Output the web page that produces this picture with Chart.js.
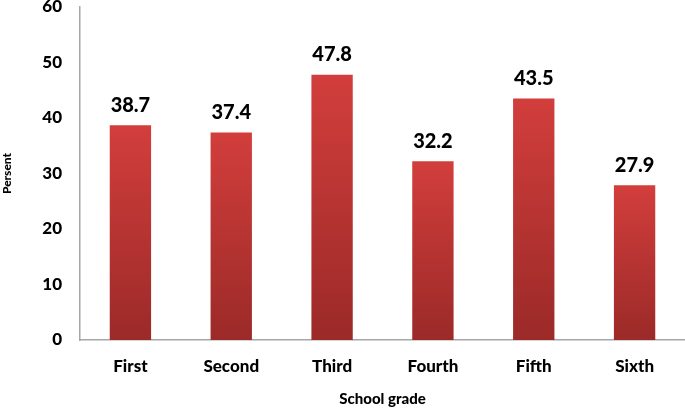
<!DOCTYPE html>
<html>
<head>
<meta charset="utf-8">
<script src="https://cdn.jsdelivr.net/npm/chart.js@4"></script>
<style>
  html, body { margin: 0; padding: 0; background: #fff; }
  #wrap { width: 685px; height: 408px; }
</style>
</head>
<body>
<div id="wrap"><canvas id="chart"></canvas></div>
<script>
const grades = ['First', 'Second', 'Third', 'Fourth', 'Fifth', 'Sixth'];
const percents = [38.7, 37.4, 47.8, 32.2, 43.5, 27.9];
const yTicks = [0, 10, 20, 30, 40, 50, 60];

const FONT = 'Lato, "Open Sans", sans-serif';
const WEIGHT = 900;

// gradient per bar, light at the top and darker at the base
function barColor(context) {
  const chart = context.chart;
  if (!chart.chartArea || context.parsed === undefined) return '#c0393a';
  const y = chart.scales.y;
  const top = y.getPixelForValue(context.parsed.y);
  const base = y.getPixelForValue(0);
  const g = chart.ctx.createLinearGradient(0, top, 0, base);
  g.addColorStop(0, '#d23e3c');
  g.addColorStop(1, '#9b2a28');
  return g;
}

// values written above each bar
const valueLabels = {
  id: 'valueLabels',
  afterDatasetsDraw(chart) {
    const ctx = chart.ctx;
    const meta = chart.getDatasetMeta(0);
    ctx.save();
    ctx.font = WEIGHT + ' 20px ' + FONT;
    ctx.fillStyle = '#000';
    ctx.textAlign = 'center';
    ctx.textBaseline = 'bottom';
    meta.data.forEach((bar, i) => {
      ctx.fillText(percents[i].toFixed(1), bar.x, bar.y - 10);
    });
    ctx.restore();
  }
};

new Chart(document.getElementById('chart'), {
  type: 'bar',
  data: {
    labels: grades,
    datasets: [{
      data: percents,
      backgroundColor: barColor,
      borderWidth: 0,
      categoryPercentage: 1,
      barPercentage: 0.41
    }]
  },
  options: {
    responsive: true,
    maintainAspectRatio: false,
    animation: false,
    layout: { padding: { top: 7, right: 0, left: 0, bottom: 0 } },
    plugins: {
      legend: { display: false },
      tooltip: { enabled: false }
    },
    scales: {
      x: {
        grid: { display: false, drawTicks: false },
        border: { display: true, color: '#a6a6a6', width: 1.5 },
        ticks: {
          color: '#000',
          padding: 16,
          font: { family: FONT, size: 17, weight: WEIGHT }
        },
        title: {
          display: true,
          text: 'School grade',
          color: '#000',
          padding: { top: 10, bottom: 0 },
          font: { family: FONT, size: 15, weight: WEIGHT }
        },
        afterFit(scale) {
          scale.height = 68;
          scale.paddingLeft = 0;
          scale.paddingRight = 0;
        }
      },
      y: {
        min: 0,
        max: 60,
        afterBuildTicks(scale) { scale.ticks = yTicks.map(v => ({ value: v })); },
        grid: { display: false, drawTicks: false },
        border: { display: true, color: '#a6a6a6', width: 1.5 },
        ticks: {
          color: '#000',
          padding: 18,
          font: { family: FONT, size: 17, weight: WEIGHT }
        },
        title: {
          display: true,
          text: 'Persent',
          color: '#000',
          padding: { top: 0, bottom: 0 },
          font: { family: FONT, size: 12, weight: WEIGHT }
        },
        afterFit(scale) {
          scale.width = 80;
          scale.paddingTop = 0;
          scale.paddingBottom = 0;
        }
      }
    }
  },
  plugins: [valueLabels]
});
</script>
</body>
</html>
